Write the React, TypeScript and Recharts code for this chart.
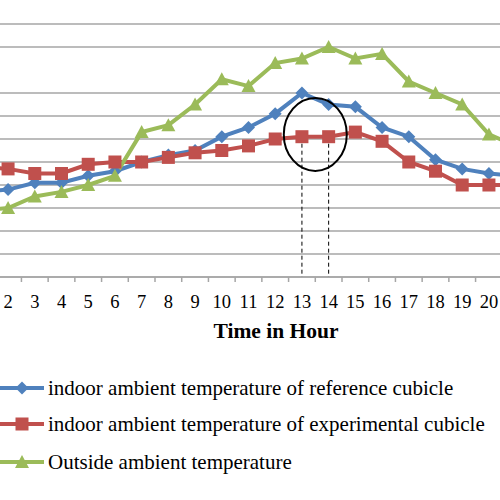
import React from 'react';
import { LineChart, Line, XAxis, YAxis, CartesianGrid, ReferenceLine, ReferenceDot } from 'recharts';

// hours 1 and 21 sit just outside the visible crop
const hours = [1, 2, 3, 4, 5, 6, 7, 8, 9, 10, 11, 12, 13, 14, 15, 16, 17, 18, 19, 20, 21];
const referenceCubicle = [23.7, 23.8, 24.1, 24.1, 24.4, 24.6, 25.0, 25.3, 25.5, 26.1, 26.5, 27.1, 28.0, 27.5, 27.4, 26.5, 26.1, 25.1, 24.7, 24.5, 24.4];
const experimentalCubicle = [24.8, 24.7, 24.5, 24.5, 24.9, 25.0, 25.0, 25.2, 25.4, 25.5, 25.7, 26.0, 26.1, 26.1, 26.3, 25.9, 25.0, 24.6, 24.0, 24.0, 24.0];
const outsideTemp = [22.9, 23.0, 23.5, 23.7, 24.0, 24.4, 26.3, 26.6, 27.5, 28.6, 28.3, 29.3, 29.5, 30.0, 29.5, 29.7, 28.5, 28.0, 27.5, 26.2, 25.7];
const yTicks = [20, 21, 22, 23, 24, 25, 26, 27, 28, 29, 30, 31];
const markedHours = [13, 14];

const seriesNames = [
  'indoor ambient temperature of reference cubicle',
  'indoor ambient temperature of experimental cubicle',
  'Outside ambient temperature',
];

const BLUE = '#4F81BD';
const RED = '#C0504D';
const GREEN = '#9BBB59';
const GRID = '#a6a6a6';
const FONT = '"Liberation Serif", "Times New Roman", serif';

const CHART_W = 579;
const MARGIN = { top: 24, right: 10, bottom: 3, left: 8 };
const BAND = (CHART_W - MARGIN.left - MARGIN.right) / hours.length;

const data = hours.map((h, i) => ({
  hour: h,
  reference: referenceCubicle[i],
  experimental: experimentalCubicle[i],
  outside: outsideTemp[i],
}));

function markerShape(kind: string, cx: number, cy: number, color: string, key?: any) {
  if (kind === 'diamond') {
    const r = 6.5;
    return <path key={key} d={`M${cx},${cy - r}L${cx + r},${cy}L${cx},${cy + r}L${cx - r},${cy}Z`} fill={color} />;
  }
  if (kind === 'square') {
    const s = 6.5;
    return <rect key={key} x={cx - s} y={cy - s} width={s * 2} height={s * 2} fill={color} />;
  }
  return <path key={key} d={`M${cx},${cy - 7}L${cx + 7},${cy + 6}L${cx - 7},${cy + 6}Z`} fill={color} />;
}

const dotFor = (kind: string, color: string) => (p: any) => markerShape(kind, p.cx, p.cy, color, p.index);

const HourTick = (props: any) => {
  const { x, y, payload } = props;
  return (
    <g>
      <line x1={x - BAND / 2} x2={x - BAND / 2} y1={y - 8} y2={y - 3} stroke={GRID} strokeWidth={1.5} />
      <text x={x} y={y + 23} textAnchor="middle" fontFamily={FONT} fontSize={18.5} fill="#000">
        {payload.value}
      </text>
    </g>
  );
};

const legendItems = [
  { name: seriesNames[0], color: BLUE, kind: 'diamond', top: 388 },
  { name: seriesNames[1], color: RED, kind: 'square', top: 424 },
  { name: seriesNames[2], color: GREEN, kind: 'triangle', top: 462 },
];

export default function App() {
  return (
    <div style={{ position: 'relative', width: 500, height: 500, overflow: 'hidden', background: '#fff' }}>
      <style>{'body{margin:0}'}</style>
      <div style={{ position: 'absolute', left: -40, top: 0 }}>
        <LineChart width={CHART_W} height={330} data={data} margin={MARGIN}>
          <CartesianGrid horizontal vertical={false} stroke={GRID} strokeWidth={1.5} />
          <YAxis hide domain={[20, 31]} ticks={yTicks} />
          <XAxis
            dataKey="hour"
            scale="band"
            interval={0}
            height={50}
            tickSize={6}
            tickMargin={2}
            tickLine={false}
            axisLine={{ stroke: GRID, strokeWidth: 1.5 }}
            tick={<HourTick />}
          />
          <Line dataKey="reference" stroke={BLUE} strokeWidth={4} dot={dotFor('diamond', BLUE)} activeDot={false} isAnimationActive={false} />
          <Line dataKey="experimental" stroke={RED} strokeWidth={4} dot={dotFor('square', RED)} activeDot={false} isAnimationActive={false} />
          <Line dataKey="outside" stroke={GREEN} strokeWidth={4} dot={dotFor('triangle', GREEN)} activeDot={false} isAnimationActive={false} />
          {markedHours.map((h) => (
            <ReferenceLine
              key={h}
              segment={[
                { x: h, y: experimentalCubicle[hours.indexOf(h)] },
                { x: h, y: 20 },
              ]}
              stroke="#000"
              strokeWidth={1}
              strokeDasharray="4 3"
            />
          ))}
          <ReferenceDot
            x={markedHours[0]}
            y={26.2}
            shape={(p: any) => (
              <ellipse cx={p.cx + BAND / 2} cy={p.cy} rx={31.5} ry={36.5} fill="none" stroke="#000" strokeWidth={2} />
            )}
          />
        </LineChart>
      </div>
      <div
        style={{
          position: 'absolute',
          left: 276,
          top: 318,
          transform: 'translateX(-50%)',
          fontFamily: FONT,
          fontWeight: 'bold',
          fontSize: 21.5,
          lineHeight: '26px',
          whiteSpace: 'nowrap',
        }}
      >
        Time in Hour
      </div>
      {legendItems.map((item) => (
        <div key={item.name} style={{ position: 'absolute', left: 0, top: item.top - 13, height: 26, display: 'flex', alignItems: 'center' }}>
          <svg width={46} height={26}>
            <line x1={0} x2={44} y1={13} y2={13} stroke={item.color} strokeWidth={4} />
            {markerShape(item.kind, 22, 13, item.color)}
          </svg>
          <span style={{ fontFamily: FONT, fontSize: 21, lineHeight: '26px', marginLeft: 2, whiteSpace: 'nowrap' }}>{item.name}</span>
        </div>
      ))}
    </div>
  );
}
